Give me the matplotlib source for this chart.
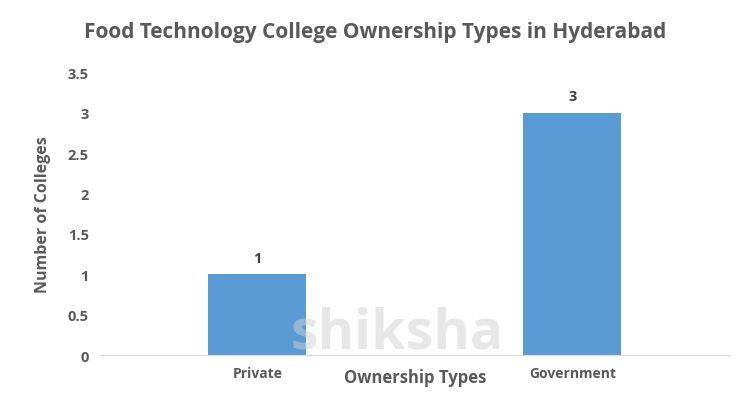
import matplotlib
matplotlib.use("Agg")
import matplotlib.pyplot as plt

categories = ["Private", "Government"]
values = [1, 3]
yticks = [0, 0.5, 1, 1.5, 2, 2.5, 3, 3.5]

plt.rcParams['font.family'] = ['Open Sans', 'DejaVu Sans']
fig = plt.figure(figsize=(7.5, 4.02), dpi=100)
ax = fig.add_axes([0.133, 0.114, 0.84, 0.704])
x = list(range(len(categories)))
ax.bar(x, values, width=0.31, color='#5B9BD5', zorder=2)
for xi, v in zip(x, values):
    ax.text(xi, v + 0.12, f"{v}", ha='center', va='bottom', fontsize=10.5, fontweight='bold', color='#404040')
ax.set_xlim(-0.5, 1.5)
ax.set_ylim(0, 3.5)
ax.set_yticks(yticks)
ax.set_yticklabels([f"{t:g}" for t in yticks], fontsize=10.5, fontweight='bold', color='#595959')
ax.set_xticks(x)
ax.set_xticklabels(categories, fontsize=10, fontweight='bold', color='#595959')
ax.tick_params(length=0, pad=8)
for s in ['top', 'right', 'left']:
    ax.spines[s].set_visible(False)
ax.spines['bottom'].set_color('#D9D9D9')
ax.set_ylabel("Number of Colleges", fontsize=11.5, fontweight='bold', color='#595959', labelpad=12)
ax.set_xlabel("Ownership Types", fontsize=12, fontweight='bold', color='#595959', labelpad=-9)
fig.text(0.5, 0.92, "Food Technology College Ownership Types in Hyderabad", ha='center', va='center',
         fontsize=15, fontweight='bold', color='#595959')
fig.text(0.53, 0.17, "shiksha", ha='center', va='center', fontsize=40, fontweight='bold', color='#D0D0D0', alpha=0.5, zorder=3)
fig.savefig("out.png", dpi=100)
